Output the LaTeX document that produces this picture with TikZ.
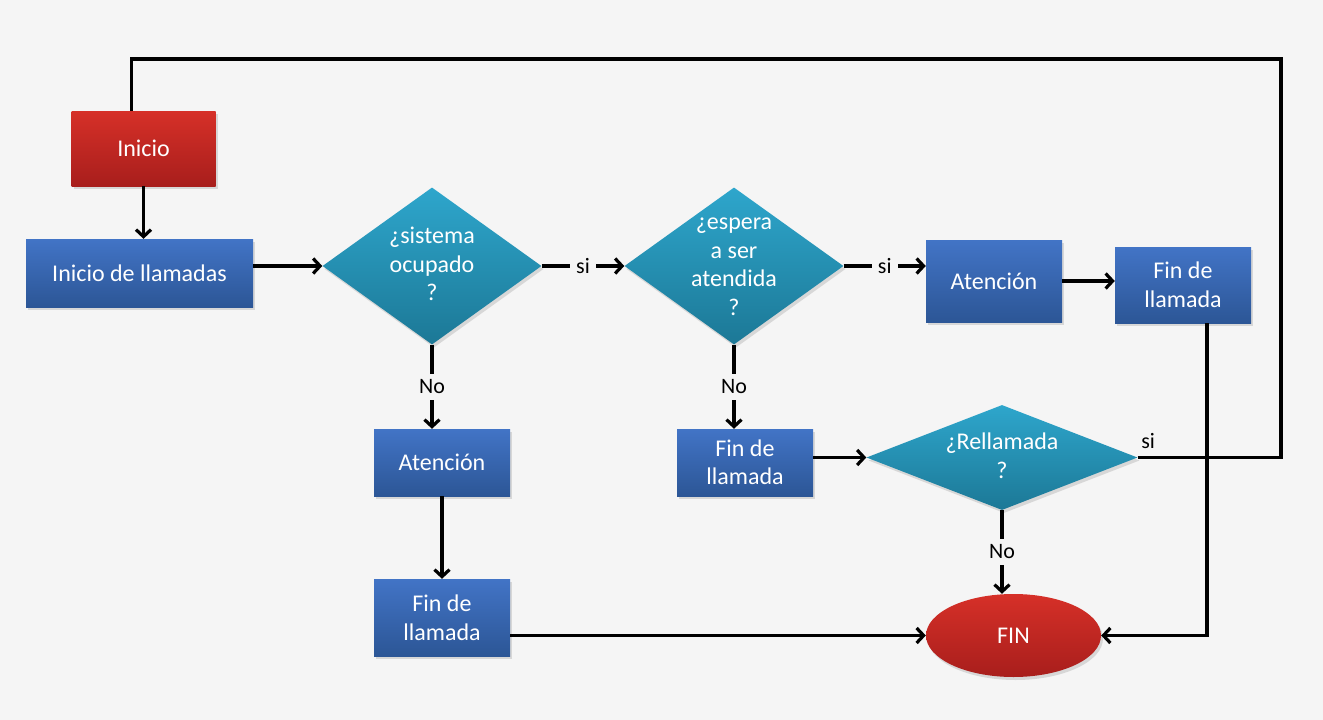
\documentclass[tikz,border=0pt]{standalone}
\usepackage{fontspec}
\setmainfont{Carlito}
\usetikzlibrary{shapes.geometric,arrows.meta,shadows}

\definecolor{fondo}{RGB}{245,245,245}
\definecolor{azularriba}{RGB}{66,116,198}
\definecolor{azulabajo}{RGB}{44,86,150}
\definecolor{rojoarriba}{RGB}{214,48,40}
\definecolor{rojoabajo}{RGB}{168,30,28}
\definecolor{turqarriba}{RGB}{46,166,204}
\definecolor{turqabajo}{RGB}{28,120,150}

\newcommand{\rombotexto}[1]{\makebox[0pt]{\smash{\raisebox{-7pt}{\begin{tabular}{@{}c@{}}#1\end{tabular}}}}}

\begin{document}
\begin{tikzpicture}[x=1pt,y=-1pt,
  sombra/.style={drop shadow={opacity=0.25,shadow xshift=2pt,shadow yshift=-3pt}},
  proceso/.style={rectangle,sombra,top color=azularriba,bottom color=azulabajo,
    text=white,align=center,inner sep=0pt,
    font=\fontsize{24}{28.5}\selectfont},
  inicial/.style={proceso,top color=rojoarriba,bottom color=rojoabajo},
  decision/.style={diamond,sombra,top color=turqarriba,bottom color=turqabajo,
    text=white,inner sep=0pt,font=\fontsize{24}{28.5}\selectfont},
  final/.style={ellipse,sombra,top color=rojoarriba,bottom color=rojoabajo,
    text=white,inner sep=0pt,font=\fontsize{24}{28.5}\selectfont},
  linea/.style={line width=3.2pt,black},
  flujo/.style={linea,-{Straight Barb[length=7pt,width=15pt]}},
  etiqueta/.style={fill=fondo,inner sep=6pt,font=\fontsize{22}{26}\selectfont}]

  % fondo
  \fill[fondo] (0,0) rectangle (1323,720);

  % cajas
  \node[inicial,minimum width=144,minimum height=75] (inicio) at (143.5,148.5) {Inicio};
  \node[proceso,minimum width=227,minimum height=68] (llamadas) at (139.5,273) {Inicio de llamadas};
  \node[decision,minimum width=219,minimum height=157] (ocupado) at (432,266)
    {\rombotexto{¿sistema\\ocupado\\?}};
  \node[decision,minimum width=219,minimum height=157] (espera) at (734,266)
    {\rombotexto{¿espera\\a ser\\atendida\\?}};
  \node[proceso,minimum width=136,minimum height=82] (atencionA) at (994,281) {Atención};
  \node[proceso,minimum width=136,minimum height=76] (finA) at (1183,285) {Fin de\\llamada};
  \node[proceso,minimum width=136,minimum height=67] (atencionB) at (442,462.5) {Atención};
  \node[proceso,minimum width=136,minimum height=77] (finB) at (442,617.5) {Fin de\\llamada};
  \node[proceso,minimum width=136,minimum height=67] (finC) at (745,462.5) {Fin de\\llamada};
  \node[decision,minimum width=271,minimum height=105] (rellamada) at (1002,457.5)
    {\rombotexto{¿Rellamada\\?}};
  \node[final,minimum width=175,minimum height=83] (fin) at (1013.5,635.5) {FIN};

  % flechas
  \draw[flujo] (inicio.south) -- (inicio.south |- llamadas.north);
  \draw[flujo] (llamadas.east |- ocupado.west) -- (ocupado.west);
  \draw[flujo] (ocupado.east) -- node[etiqueta] {si} (espera.west);
  \draw[flujo] (espera.east) -- node[etiqueta] {si} (espera.east -| atencionA.west);
  \draw[flujo] (atencionA.east) -- (atencionA.east -| finA.west);
  \draw[flujo] (ocupado.south) -- node[etiqueta] {No} (ocupado.south |- atencionB.north);
  \draw[flujo] (espera.south) -- node[etiqueta] {No} (espera.south |- finC.north);
  \draw[flujo] (atencionB.south) -- (finB.north);
  \draw[flujo] (finB.east |- fin.west) -- (fin.west);
  \draw[flujo] (finC.east |- rellamada.west) -- (rellamada.west);
  \draw[flujo] (rellamada.south) -- node[etiqueta] {No} (rellamada.south |- fin.north);
  \draw[flujo] ([xshift=24pt]finA.south) |- (fin.east);

  % vuelta al inicio
  \coordinate (vuelta) at (1281,59);
  \draw[linea] (rellamada.east)
    node[anchor=south west,inner sep=2pt,yshift=5pt,font=\fontsize{22}{26}\selectfont] (si) {si}
    -| (vuelta) -| ([xshift=-12pt]inicio.north);

\end{tikzpicture}
\end{document}
